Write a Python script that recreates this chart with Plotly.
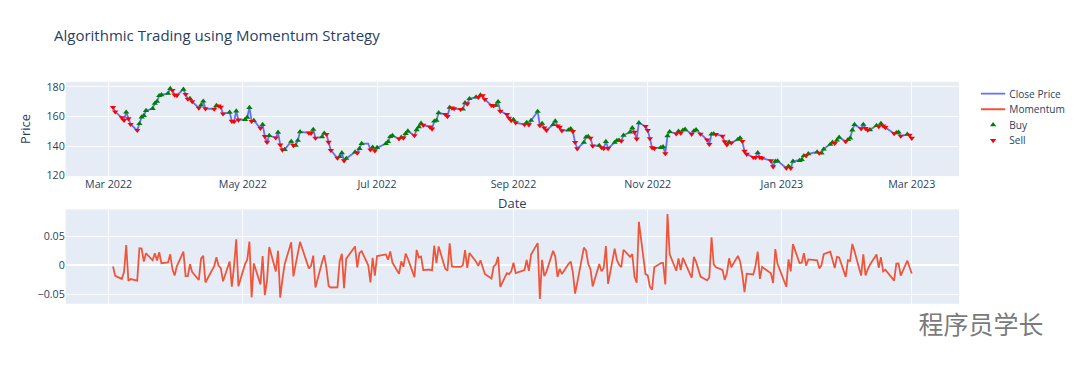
import numpy as np
import pandas as pd
import plotly.graph_objects as go
from plotly.subplots import make_subplots

# ---- data (AAPL daily close) ----
start_date = "2022-03-03"
end_date = "2023-03-01"
market_holidays = ["2022-04-15", "2022-05-30", "2022-06-20", "2022-07-04",
                   "2022-09-05", "2022-11-24", "2022-12-26", "2023-01-02",
                   "2023-01-16", "2023-02-20"]

previous_close = 166.56  # close of the trading day before the first plotted day

close_price = [
    # Mar 2022
    166.23, 163.17, 159.30, 157.44, 162.95, 158.52, 154.73, 150.62, 155.09, 159.59,
    160.62, 163.98, 165.38, 168.82, 170.21, 174.07, 174.72, 175.60, 178.96, 177.77,
    174.61,
    # Apr 2022
    174.31, 178.44, 175.06, 171.83, 172.14, 170.09, 165.75, 167.66, 170.40, 165.29,
    165.07, 167.40, 167.23, 166.42, 161.79, 162.88, 156.80, 156.57, 163.64, 157.65,
    # May 2022
    157.96, 159.48, 166.02, 156.77, 157.28, 152.06, 154.51, 146.50, 142.56, 147.11,
    145.54, 149.24, 140.82, 137.35, 137.59, 143.11, 140.36, 140.52, 143.78, 149.64,
    148.84,
    # Jun 2022
    148.71, 151.21, 145.38, 146.14, 148.71, 147.96, 142.64, 137.13, 131.88, 132.76,
    135.43, 130.06, 131.56, 135.87, 135.35, 138.27, 141.66, 141.66, 137.44, 139.23,
    136.72,
    # Jul 2022
    138.93, 141.56, 142.92, 146.35, 147.04, 144.87, 145.86, 145.49, 148.47, 150.17,
    147.07, 151.00, 153.04, 155.35, 154.09, 152.95, 151.60, 156.79, 157.35, 162.51,
    # Aug 2022
    161.51, 160.01, 166.13, 165.81, 165.35, 164.87, 164.92, 169.24, 168.49, 172.10,
    173.19, 173.03, 174.55, 174.15, 171.52, 167.57, 167.23, 167.53, 170.03, 163.62,
    161.38, 158.91, 157.22,
    # Sep 2022
    157.96, 155.81, 154.53, 155.96, 154.46, 157.37, 163.43, 153.84, 155.31, 152.37,
    150.70, 154.48, 156.90, 153.72, 152.74, 150.43, 150.77, 151.76, 149.84, 142.48,
    138.20,
    # Oct 2022
    142.45, 146.10, 146.40, 145.43, 140.09, 140.42, 138.98, 138.34, 142.99, 138.38,
    142.41, 143.75, 143.86, 143.39, 147.27, 149.45, 152.34, 149.35, 144.80, 155.74,
    153.34,
    # Nov 2022
    150.65, 145.03, 138.88, 138.38, 138.92, 139.50, 134.87, 146.87, 149.70, 148.28,
    150.04, 148.79, 150.72, 151.29, 148.01, 150.18, 151.07, 148.11, 144.22, 141.17,
    148.03,
    # Dec 2022
    148.31, 147.81, 146.63, 142.91, 140.94, 142.65, 142.16, 144.49, 145.47, 143.21,
    136.50, 134.51, 132.37, 132.30, 135.45, 132.23, 131.86, 130.03, 126.04, 129.61,
    129.93,
    # Jan 2023
    125.07, 126.36, 125.02, 129.62, 130.15, 130.73, 133.49, 133.41, 134.76, 135.94,
    135.21, 135.27, 137.87, 141.11, 142.53, 141.86, 143.96, 145.93, 143.00, 144.29,
    # Feb 2023
    145.43, 150.82, 154.50, 151.73, 154.65, 151.92, 150.87, 151.01, 153.85, 153.20,
    155.33, 153.71, 152.55, 148.48, 148.91, 149.40, 146.71, 147.92, 147.41,
    # Mar 2023
    145.31,
]

title_text = "Algorithmic Trading using Momentum Strategy"
watermark_text = "程序员学长"

# ---- frame ----
dates = pd.bdate_range(start_date, end_date)
dates = dates[~dates.isin(pd.to_datetime(market_holidays))]
df = pd.DataFrame({"Close": close_price}, index=dates)
prev = pd.Series([previous_close] + close_price)
df["Momentum"] = prev.pct_change().iloc[1:].values
buy = df[df["Momentum"] > 0]
sell = df[df["Momentum"] < 0]

# figure is laid out at a larger size and shown scaled down (like the reference)
S = 0.81
W, H = 1080 / S, 369 / S

fig = make_subplots(rows=2, cols=1, vertical_spacing=0.15)

fig.add_trace(go.Scatter(x=df.index, y=df["Close"], mode="lines", name="Close Price",
                         line=dict(color="#636efa", width=2.2)), row=1, col=1)
fig.add_trace(go.Scatter(x=df.index, y=df["Momentum"], mode="lines", name="Momentum",
                         line=dict(color="#EF553B", width=2.2)), row=2, col=1)
fig.add_trace(go.Scatter(x=buy.index, y=buy["Close"], mode="markers", name="Buy",
                         marker=dict(symbol="triangle-up", color="green", size=6.8)),
              row=1, col=1)
fig.add_trace(go.Scatter(x=sell.index, y=sell["Close"], mode="markers", name="Sell",
                         marker=dict(symbol="triangle-down", color="red", size=6.8)),
              row=1, col=1)

x_range = ["2022-02-09 11:00", "2023-03-22 12:00"]
fig.update_xaxes(range=x_range, title_text="Date", title_standoff=10, row=1, col=1)
fig.update_xaxes(range=x_range, showticklabels=False, row=2, col=1)
fig.update_yaxes(title_text="Price", range=[119.6, 183.5], row=1, col=1)

fig.add_annotation(text=watermark_text, xref="paper", yref="paper",
                   x=(1045 - 66) / 893, y=(303 - 322) / 221,
                   xanchor="right", yanchor="middle", showarrow=False,
                   font=dict(family="Noto Sans CJK SC", size=25 / S,
                             color="rgba(105,105,105,0.9)"))

fig.update_layout(
    template="plotly",
    width=W, height=H,
    font=dict(size=10.7 / S),
    margin=dict(l=66 / S, r=121 / S, t=82 / S, b=66 / S, autoexpand=False),
    title=dict(text=title_text, x=0.05, y=1 - 36 / 369, yanchor="middle",
               font=dict(size=15 / S)),
    legend=dict(x=1.02, y=1, font=dict(size=12.5)),
)

post = (
    "document.body.style.margin='0';document.body.style.overflow='hidden';"
    "var gd=document.getElementById('{plot_id}');"
    "gd.style.transformOrigin='0 0';gd.style.transform='scale(" + str(S) + ")';"
)
fig.write_html("out.html", config={"displayModeBar": False}, post_script=post)
